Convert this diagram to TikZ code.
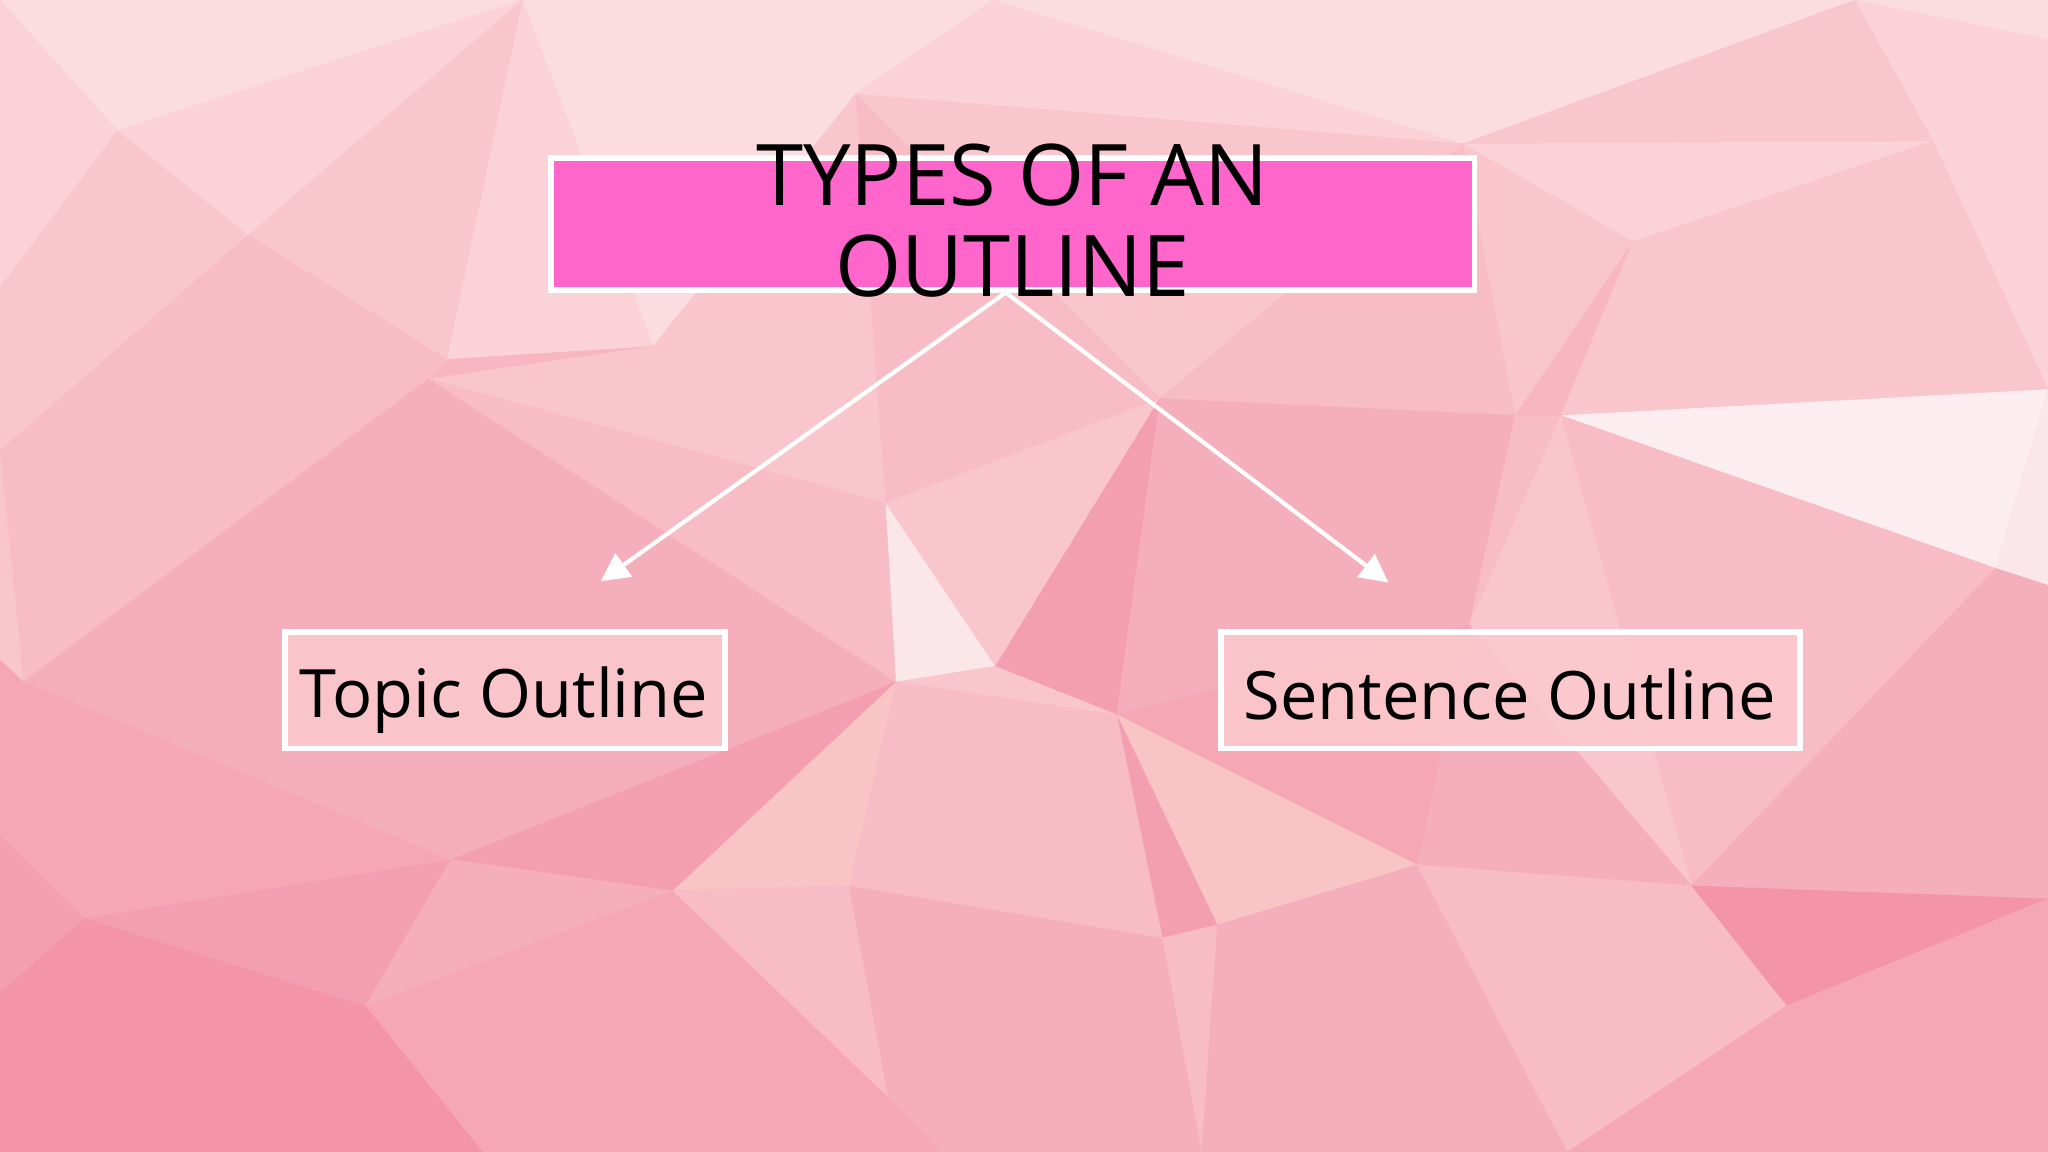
\documentclass[tikz,border=0pt]{standalone}
\usepackage{fontspec}
\setmainfont{Open Sans}
\usetikzlibrary{arrows.meta}
\definecolor{bgbase}{HTML}{F7B6C2}
\definecolor{c1}{HTML}{FBDDE1}
\definecolor{c2}{HTML}{FAD2D8}
\definecolor{c3}{HTML}{F9C6CE}
\definecolor{c4}{HTML}{F8BCC7}
\definecolor{c5}{HTML}{F5AEBC}
\definecolor{c6}{HTML}{F39FB1}
\definecolor{c7}{HTML}{F494A8}
\definecolor{c8}{HTML}{FBE6EA}
\definecolor{c9}{HTML}{F8C4C4}
\definecolor{c10}{HTML}{FCEEF0}
\definecolor{c11}{HTML}{F6A7B6}
\definecolor{titlefill}{HTML}{FF66CC}
\definecolor{subfill}{HTML}{FCCACD}
\tikzset{
  titlebox/.style={draw=white, line width=1.6pt, fill=titlefill, minimum width=9.233cm, minimum height=1.319cm, inner sep=0pt},
  subbox/.style={draw=white, line width=1.6pt, fill=subfill, fill opacity=0.85, minimum height=1.162cm, inner sep=0pt},
  titletext/.style={align=center, font=\fontsize{24.2}{26}\selectfont, text=black, inner sep=0pt},
  subtext/.style={font=\fontsize{19}{22}\selectfont, text=black, inner sep=0pt, anchor=base},
  arr/.style={draw=white, line width=1.2pt, -{Triangle[length=8pt,width=8pt]}}
}
\begin{document}
\begin{tikzpicture}[x=0.01306cm,y=-0.01306cm]
\useasboundingbox (0,0) rectangle (1568,882);
% ---- low-poly background ----
\fill[bgbase] (0,0) rectangle (1568,882);
\fill[c1] (0,0) -- (400,0) -- (90,100) -- cycle;
\fill[c2] (0,0) -- (90,100) -- (0,220) -- cycle;
\fill[c2] (90,100) -- (400,0) -- (190,180) -- cycle;
\fill[c1] (400,0) -- (655,72) -- (500,265) -- cycle;
\fill[c2] (400,0) -- (500,265) -- (342,275) -- cycle;
\fill[c3] (400,0) -- (342,275) -- (190,180) -- cycle;
\fill[c1] (400,0) -- (760,0) -- (655,72) -- cycle;
\fill[c2] (760,0) -- (1120,110) -- (655,72) -- cycle;
\fill[c1] (760,0) -- (1420,0) -- (1120,110) -- cycle;
\fill[c2] (1420,0) -- (1568,30) -- (1480,108) -- cycle;
\fill[c1] (1420,0) -- (1568,0) -- (1568,30) -- cycle;
\fill[c3] (1120,110) -- (1420,0) -- (1480,108) -- cycle;
\fill[c2] (1120,110) -- (1480,108) -- (1250,185) -- cycle;
\fill[c2] (1480,108) -- (1568,30) -- (1568,298) -- cycle;
\fill[c3] (1250,185) -- (1480,108) -- (1568,298) -- cycle;
\fill[c3] (1250,185) -- (1568,298) -- (1195,318) -- cycle;
\fill[c3] (1120,110) -- (1250,185) -- (1160,318) -- cycle;
\fill[c4] (1120,110) -- (1160,318) -- (888,305) -- cycle;
\fill[c3] (655,72) -- (1120,110) -- (888,305) -- cycle;
\fill[c4] (655,72) -- (888,305) -- (678,385) -- cycle;
\fill[c3] (655,72) -- (678,385) -- (500,265) -- cycle;
\fill[c3] (0,220) -- (190,180) -- (0,345) -- cycle;
\fill[c3] (0,220) -- (90,100) -- (190,180) -- cycle;
\fill[c4] (190,180) -- (342,275) -- (328,290) -- (0,345) -- cycle;
\fill[c4] (0,345) -- (328,290) -- (18,522) -- cycle;
\fill[c3] (0,345) -- (18,522) -- (0,505) -- cycle;
\fill[c5] (328,290) -- (686,522) -- (18,522) -- cycle;
\fill[c3] (328,290) -- (500,265) -- (678,385) -- cycle;
\fill[c4] (328,290) -- (678,385) -- (686,522) -- cycle;
\fill[c8] (678,385) -- (762,510) -- (686,522) -- cycle;
\fill[c3] (678,385) -- (888,305) -- (762,510) -- cycle;
\fill[c6] (762,510) -- (888,305) -- (855,547) -- cycle;
\fill[c5] (888,305) -- (1160,318) -- (855,547) -- cycle;
\fill[c5] (855,547) -- (1160,318) -- (1125,478) -- cycle;
\fill[c4] (1160,318) -- (1195,318) -- (1125,478) -- cycle;
\fill[c10] (1195,318) -- (1568,298) -- (1528,435) -- cycle;
\fill[c8] (1568,298) -- (1568,448) -- (1528,435) -- cycle;
\fill[c4] (1195,318) -- (1528,435) -- (1295,678) -- cycle;
\fill[c3] (1195,318) -- (1295,678) -- (1125,478) -- cycle;
\fill[c5] (1528,435) -- (1568,448) -- (1568,688) -- (1295,678) -- cycle;
\fill[c5] (1125,478) -- (1295,678) -- (1085,662) -- cycle;
\fill[c11] (855,547) -- (1125,478) -- (1085,662) -- cycle;
\fill[c9] (855,547) -- (1085,662) -- (932,708) -- cycle;
\fill[c6] (855,547) -- (932,708) -- (890,718) -- cycle;
\fill[c4] (686,522) -- (855,547) -- (650,678) -- cycle;
\fill[c3] (686,522) -- (762,510) -- (855,547) -- cycle;
\fill[c9] (686,522) -- (650,678) -- (515,682) -- cycle;
\fill[c6] (686,522) -- (515,682) -- (345,658) -- cycle;
\fill[c5] (18,522) -- (686,522) -- (345,658) -- cycle;
\fill[c11] (0,505) -- (18,522) -- (345,658) -- (65,703) -- (0,640) -- cycle;
\fill[c6] (0,640) -- (65,703) -- (0,760) -- cycle;
\fill[c7] (0,760) -- (65,703) -- (280,770) -- (0,882) -- cycle;
\fill[c6] (65,703) -- (345,658) -- (280,770) -- cycle;
\fill[c7] (280,770) -- (370,882) -- (0,882) -- cycle;
\fill[c5] (345,658) -- (515,682) -- (280,770) -- cycle;
\fill[c11] (280,770) -- (515,682) -- (680,840) -- (370,882) -- cycle;
\fill[c4] (515,682) -- (650,678) -- (680,840) -- cycle;
\fill[c5] (650,678) -- (890,718) -- (680,840) -- cycle;
\fill[c4] (650,678) -- (855,547) -- (890,718) -- cycle;
\fill[c11] (370,882) -- (680,840) -- (720,882) -- cycle;
\fill[c5] (680,840) -- (890,718) -- (920,882) -- (720,882) -- cycle;
\fill[c4] (890,718) -- (932,708) -- (920,882) -- cycle;
\fill[c5] (932,708) -- (1085,662) -- (1200,882) -- (920,882) -- cycle;
\fill[c4] (1085,662) -- (1295,678) -- (1368,770) -- (1200,882) -- cycle;
\fill[c7] (1295,678) -- (1568,688) -- (1368,770) -- cycle;
\fill[c11] (1368,770) -- (1568,688) -- (1568,882) -- (1200,882) -- cycle;
% ---- diagram ----
\node[titlebox] (title) at (775.5,171.5) {};
\node[titletext] (titletxt) at (775,169) {TYPES OF AN\\OUTLINE};
\node[subbox, minimum width=4.401cm] (topic) at (386.5,528.5) {};
\node[subbox, minimum width=5.786cm] (sentence) at (1156.5,528.5) {};
\node[subtext] (topictxt) at (386,549) {Topic Outline};
\node[subtext] (sentencetxt) at (1156,551) {Sentence Outline};
\coordinate (src) at (770,224);
\coordinate (tipL) at (460,445);
\coordinate (tipR) at (1063,446);
\draw[arr] (src) -- (tipL);
\draw[arr] (src) -- (tipR);
\end{tikzpicture}
\end{document}
